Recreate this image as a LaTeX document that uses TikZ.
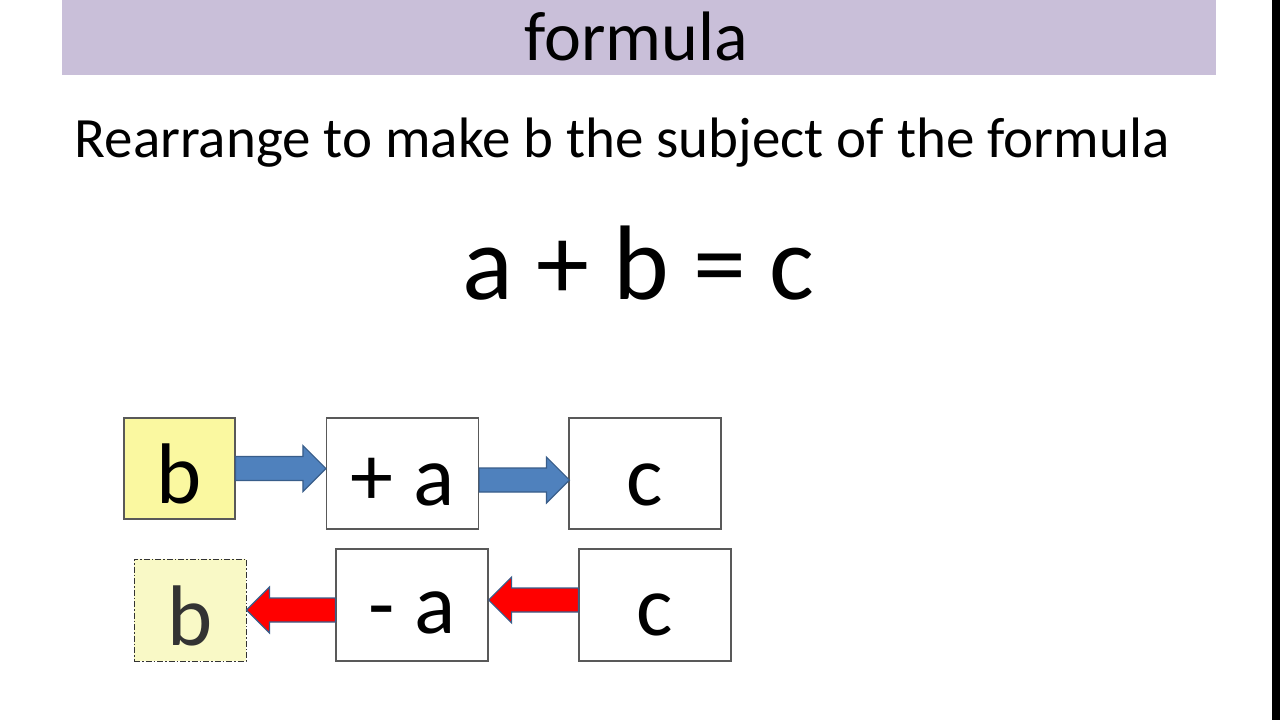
\documentclass[tikz,border=0pt]{standalone}
\usepackage{fontspec}
\setmainfont{Carlito}
\usepackage{xcolor}
\usepackage{tikz}
\usetikzlibrary{calc}

\definecolor{headbar}{HTML}{C9BFD9}
\definecolor{boxyellow}{HTML}{FAF8A0}
\definecolor{paleyellow}{HTML}{F9F9C6}
\definecolor{arrowblue}{HTML}{4F81BD}
\definecolor{arrowedge}{HTML}{385D8A}
\definecolor{boxedge}{HTML}{595959}

\tikzset{
  term/.style={draw=boxedge, line width=1.2pt, minimum width=152pt, minimum height=111pt,
    inner sep=0pt, font=\fontsize{86}{100}\selectfont, text height=64pt, text depth=0pt},
  fwd/.style={fill=arrowblue, draw=arrowedge, line width=1.2pt},
  back/.style={fill=red, draw=arrowedge, line width=1.2pt},
}

% block arrow: style, tail point, tip point
\newcommand{\blockarrow}[3]{%
  \draw[#1] let \p1=(#2), \p2=(#3), \n1={sign(\x2-\x1)} in
    (\x1,{\y1+12pt}) -- ({\x2-(\n1)*23pt},{\y1+12pt}) -- ({\x2-(\n1)*23pt},{\y1+23pt})
    -- (\x2,\y1) -- ({\x2-(\n1)*23pt},{\y1-23pt}) -- ({\x2-(\n1)*23pt},{\y1-12pt})
    -- (\x1,{\y1-12pt}) -- cycle;}

\begin{document}
\begin{tikzpicture}[x=1pt, y=-1pt]
\useasboundingbox (0,0) rectangle (1280,720);
\fill[white] (0,0) rectangle (1280,720);
\fill[headbar] (62,0) rectangle (1216,75);
\fill[black] (1272,0) rectangle (1280,720);

\node[anchor=base, font=\fontsize{70}{84}\selectfont] (title) at (636,60) {formula};
\node[anchor=base, font=\fontsize{57}{68}\selectfont] (task) at (622,157) {Rearrange to make b the subject of the formula};
\node[anchor=base, font=\fontsize{106}{126}\selectfont] (eqn) at (638.5,299) {a + b = c};

% forwards
\node[term, fill=boxyellow, minimum width=111pt, minimum height=101pt, text height=69pt] (b1) at (179.5,468.5) {b};
\node[term] (pa) at (402.5,473.5) {+ a};
\node[term] (c1) at (645,473.5) {c};

% backwards
\node[term, fill=paleyellow, draw=black!80, line width=1pt, dash pattern=on 6pt off 2pt on 1.5pt off 2pt,
  text=black!80, minimum width=112pt, minimum height=102pt, text height=70pt] (b2) at (190,610) {b};
\node[term, minimum height=112pt, text height=56pt] (ma) at (412,605) {- a};
\node[term, minimum height=112pt, text height=60pt] (c2) at (655,605) {c};

\blockarrow{fwd}{b1.east}{pa.west |- b1.east}
\blockarrow{fwd}{$(pa.east)+(0,6.5)$}{$(c1.west)+(1,6.5)$}
\blockarrow{back}{ma.west |- b2.east}{b2.east}
\blockarrow{back}{$(c2.west)+(0,-5)$}{$(ma.east)+(0,-5)$}
\end{tikzpicture}
\end{document}
